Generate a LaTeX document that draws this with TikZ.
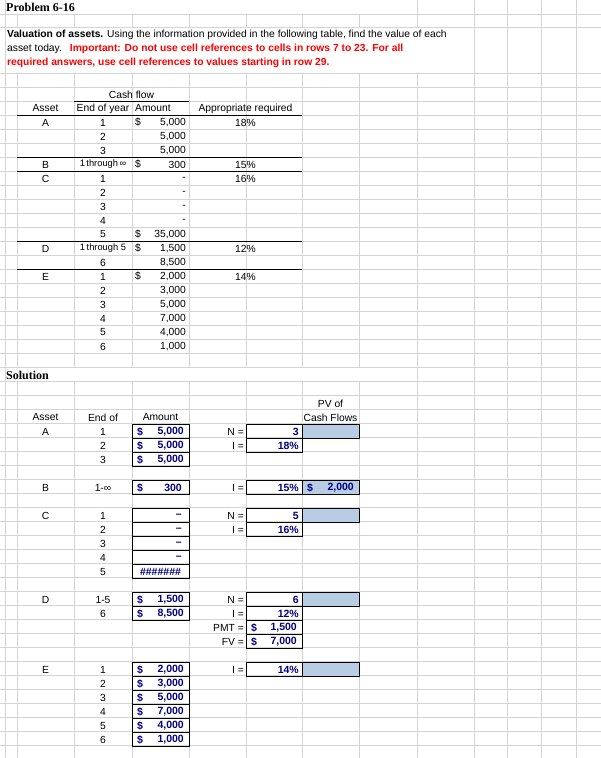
\documentclass[tikz,border=0pt]{standalone}
\usepackage{fontspec}
\setmainfont{Liberation Sans}
\newfontfamily\serif{Liberation Serif}
\definecolor{gridc}{HTML}{D4D4D4}
\definecolor{navy}{HTML}{000080}
\definecolor{pvfill}{HTML}{B8CCE4}
\definecolor{redt}{HTML}{FF0000}
\newcommand\cC[4]{\node[cell] at ({(#1+#2)/2},{#3+7.5}) {#4};}
\newcommand\cR[3]{\node[cell,anchor=east] at ({#1-3},{#2+7.5}) {#3};}
\newcommand\cLft[3]{\node[cell,anchor=west] at ({#1+3},{#2+7.5}) {#3};}
\newcommand\bx[3]{\draw[boxl] (#1,#3) rectangle (#2,{#3+14});}
\newcommand\pv[2]{\fill[pvfill] (302,#2) rectangle (359,{#2+14}); \draw[boxl] (302,#2) rectangle (359,{#2+14});}
\begin{document}
\begin{tikzpicture}[x=1pt,y=-1pt,
  cell/.style={inner sep=0pt,font=\fontsize{10.3}{11}\selectfont},
  val/.style={cell,font=\fontsize{10.5}{11}\selectfont\bfseries,text=navy},
  boxl/.style={black,line width=0.9pt},
  heavy/.style={black,line width=0.9pt},
  gl/.style={gridc,line width=0.7pt}]
\useasboundingbox (0,0) rectangle (601,758);
\fill[white] (0,0) rectangle (601,758);
% horizontal grid
\draw[gl] (0,14) -- (601,14);
\draw[gl] (0,27) -- (601,27);
\foreach \k in {0,...,49} {\draw[gl] (0,{73+14*\k}) -- (601,{73+14*\k});}
% vertical grid
\foreach \x in {5,417,474,507,541,576} {\draw[gl] (\x,0) -- (\x,14);}
\foreach \x in {5,17,74,132,189,246,302,359,417,474,507,541,576} {\draw[gl] (\x,14) -- (\x,27);}
\foreach \x in {5,474,507,541,576} {\draw[gl] (\x,27) -- (\x,73);}
\foreach \x in {5,17,74,132,189,246,302,359,417,474,507,541,576} {\draw[gl] (\x,73) -- (\x,367);}
\foreach \x in {5,417,474,507,541,576} {\draw[gl] (\x,367) -- (\x,381);}
\foreach \x in {5,17,74,132,189,246,302,359,417,474,507,541,576} {\draw[gl] (\x,381) -- (\x,758);}
% titles
\node[cell,anchor=west,font=\serif\fontsize{12}{13}\selectfont\bfseries] (title) at (6,7) {Problem 6-16};
\node[cell,anchor=west,font=\serif\fontsize{12}{13}\selectfont\bfseries] (sol) at (6,375) {Solution};
\node[cell,anchor=west] (p1) at (7,35) {\textbf{Valuation of assets.} Using the information provided in the following table, find the value of each};
\node[cell,anchor=west] (p2) at (7,49) {asset today.\hspace{8pt}\textcolor{redt}{\bfseries Important: Do not use cell references to cells in rows 7 to 23. For all}};
\node[cell,anchor=west,text=redt,font=\fontsize{10.3}{11}\selectfont\bfseries] (p3) at (7,63) {required answers, use cell references to values starting in row 29.};
% top table
\cC{74}{189}{87}{Cash flow}
\cC{17}{74}{101}{Asset}
\cC{74}{132}{101}{End of year}
\cLft{132}{101}{Amount}
\cC{189}{302}{101}{Appropriate required}
\draw[heavy] (74,101) -- (189,101);
\foreach \y in {115,157,171,241,269} {\draw[heavy] (17,\y) -- (302,\y);}
\cC{17}{74}{115}{A} \cC{17}{74}{157}{B} \cC{17}{74}{171}{C} \cC{17}{74}{241}{D} \cC{17}{74}{269}{E}
\foreach \y/\t in {115/1,129/2,143/3,171/1,185/2,199/3,213/4,227/5,255/6,269/1,283/2,297/3,311/4,325/5,339/6} {\cC{74}{132}{\y}{\t}}
\node[cell,font=\fontsize{9.3}{10}\selectfont] at (103,164.5) {1\,through\,∞};
\node[cell,font=\fontsize{9.3}{10}\selectfont] at (103,248.5) {1\,through 5};
\foreach \y in {115,157,227,241,269} {\cLft{132}{\y}{\$}}
\foreach \y/\t in {115/5{,}000,129/5{,}000,143/5{,}000,157/300,171/-,185/-,199/-,213/-,227/35{,}000,241/1{,}500,255/8{,}500,269/2{,}000,283/3{,}000,297/5{,}000,311/7{,}000,325/4{,}000,339/1{,}000} {\cR{189}{\y}{\t}}
\foreach \y/\t in {115/18\%,157/15\%,171/16\%,241/12\%,269/14\%} {\cC{189}{302}{\y}{\t}}
% solution headers
\cC{302}{359}{396}{PV of}
\cC{302}{359}{410}{Cash Flows}
\cC{17}{74}{410}{Asset}
\cC{74}{132}{410}{End of}
\cC{132}{189}{410}{Amount}
\cC{17}{74}{424}{A} \cC{17}{74}{480}{B} \cC{17}{74}{508}{C} \cC{17}{74}{592}{D} \cC{17}{74}{662}{E}
\foreach \y/\t in {424/1,438/2,452/3,480/1-∞,508/1,522/2,536/3,550/4,564/5,592/1-5,606/6,662/1,676/2,690/3,704/4,718/5,732/6} {\cC{74}{132}{\y}{\t}}
% amount boxes
\foreach \y in {424,438,452,480,508,522,536,550,564,592,606,662,676,690,704,718,732} {\bx{132}{189}{\y}}
\foreach \y/\t in {424/5{,}000,438/5{,}000,452/5{,}000,592/1{,}500,606/8{,}500,662/2{,}000,676/3{,}000,690/5{,}000,704/7{,}000,718/4{,}000,732/1{,}000}
  {\node[val,anchor=west] at (137,{\y+7.5}) {\$}; \node[val,anchor=east] at (184,{\y+7.5}) {\t};}
\node[val,anchor=west] at (137,487.5) {\$};
\node[val,anchor=east] at (182,487.5) {300};
\foreach \y in {508,522,536,550} {\node[val,anchor=east] at (182,{\y+7.5}) {–};}
\node[val,anchor=center] at (160.5,571.5) {\#\#\#\#\#\#\#};
% right side
\foreach \y/\l/\v in {424/N =/3,438/I =/18\%,480/I =/15\%,508/N =/5,522/I =/16\%,592/N =/6,606/I =/12\%,662/I =/14\%}
  {\cR{247}{\y}{\l} \bx{246}{302}{\y} \node[val,anchor=east] at (299,{\y+7.5}) {\v};}
\cR{247}{620}{PMT =} \bx{246}{302}{620} \node[val,anchor=west] at (251,627.5) {\$}; \node[val,anchor=east] at (297,627.5) {1{,}500};
\cR{247}{634}{FV =} \bx{246}{302}{634} \node[val,anchor=west] at (251,641.5) {\$}; \node[val,anchor=east] at (297,641.5) {7{,}000};
\pv{A}{424} \pv{B}{480} \pv{C}{508} \pv{D}{592} \pv{E}{662}
\node[val,anchor=west] at (307,487.5) {\$}; \node[val,anchor=east] at (354,487.5) {2{,}000};
\end{tikzpicture}
\end{document}
